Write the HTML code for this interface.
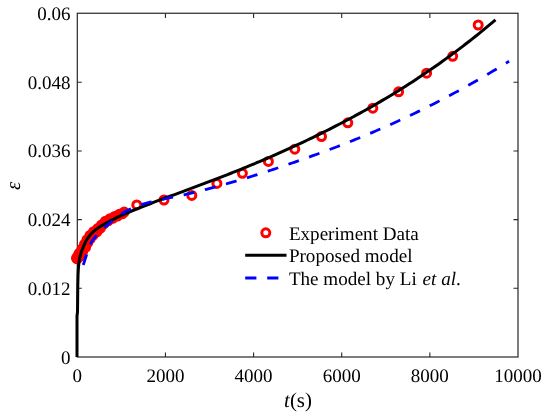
<!DOCTYPE html>
<html><head><meta charset="utf-8"><style>html,body{margin:0;padding:0;background:#fff;}svg{display:block;}text{text-rendering:geometricPrecision;}</style></head>
<body><svg width="550" height="418" viewBox="0 0 550 418" font-family='"Liberation Serif", "Times New Roman", serif' font-size="19"><rect width="550" height="418" fill="#fff"/><path d="M165.44,357.0V352.50M165.44,13.6V18.10M253.58,357.0V352.50M253.58,13.6V18.10M341.72,357.0V352.50M341.72,13.6V18.10M429.86,357.0V352.50M429.86,13.6V18.10M77.3,288.32H81.80M518.0,288.32H513.50M77.3,219.64H81.80M518.0,219.64H513.50M77.3,150.96H81.80M518.0,150.96H513.50M77.3,82.28H81.80M518.0,82.28H513.50" stroke="#262626" stroke-width="1.1" fill="none"/><rect x="77.3" y="13.25" width="440.70" height="343.75" stroke="#262626" stroke-width="1.2" fill="none"/><g fill="#000"><text x="70.5" y="363.50" text-anchor="end">0</text><text x="70.5" y="294.82" text-anchor="end">0.012</text><text x="70.5" y="226.14" text-anchor="end">0.024</text><text x="70.5" y="157.46" text-anchor="end">0.036</text><text x="70.5" y="88.78" text-anchor="end">0.048</text><text x="70.5" y="20.10" text-anchor="end">0.06</text><text x="77.30" y="381.8" text-anchor="middle">0</text><text x="165.44" y="381.8" text-anchor="middle">2000</text><text x="253.58" y="381.8" text-anchor="middle">4000</text><text x="341.72" y="381.8" text-anchor="middle">6000</text><text x="429.86" y="381.8" text-anchor="middle">8000</text><text x="518.00" y="381.8" text-anchor="middle">10000</text></g><text x="298" y="407.3" text-anchor="middle" font-size="20.9"><tspan font-style="italic">t</tspan>(s)</text><text transform="translate(19.5,185.8) rotate(-90)" text-anchor="middle" font-size="20.9" font-style="italic">ε</text><g stroke="#ff0000" stroke-width="3" fill="none"><circle cx="77.20" cy="258.80" r="4"/><circle cx="78.00" cy="256.00" r="4"/><circle cx="76.48" cy="258.20" r="4"/><circle cx="79.84" cy="256.30" r="4"/><circle cx="79.10" cy="253.37" r="4"/><circle cx="82.63" cy="251.74" r="4"/><circle cx="82.10" cy="248.82" r="4"/><circle cx="85.52" cy="247.42" r="4"/><circle cx="84.54" cy="244.21" r="4"/><circle cx="87.64" cy="242.93" r="4"/><circle cx="86.97" cy="239.64" r="4"/><circle cx="90.19" cy="238.74" r="4"/><circle cx="89.95" cy="235.42" r="4"/><circle cx="93.26" cy="235.02" r="4"/><circle cx="93.54" cy="231.70" r="4"/><circle cx="96.88" cy="231.77" r="4"/><circle cx="97.63" cy="228.54" r="4"/><circle cx="100.47" cy="228.16" r="4"/><circle cx="101.49" cy="224.94" r="4"/><circle cx="103.91" cy="223.91" r="4"/><circle cx="105.39" cy="221.21" r="4"/><circle cx="108.14" cy="220.79" r="4"/><circle cx="110.01" cy="218.73" r="4"/><circle cx="112.76" cy="218.35" r="4"/><circle cx="114.70" cy="216.38" r="4"/><circle cx="117.43" cy="216.05" r="4"/><circle cx="119.43" cy="214.16" r="4"/><circle cx="122.15" cy="213.84" r="4"/><circle cx="124.20" cy="212.03" r="4"/><circle cx="136.80" cy="204.90" r="4"/><circle cx="164.00" cy="200.00" r="4"/><circle cx="191.80" cy="195.40" r="4"/><circle cx="216.90" cy="183.40" r="4"/><circle cx="242.40" cy="173.30" r="4"/><circle cx="268.40" cy="161.40" r="4"/><circle cx="294.80" cy="149.20" r="4"/><circle cx="321.50" cy="136.50" r="4"/><circle cx="347.80" cy="122.80" r="4"/><circle cx="372.80" cy="108.20" r="4"/><circle cx="398.60" cy="91.80" r="4"/><circle cx="426.60" cy="73.20" r="4"/><circle cx="452.70" cy="56.30" r="4"/><circle cx="478.20" cy="25.00" r="4"/></g><path d="M77.00,357.00 L77.00,316.00 L77.50,312.00 L77.65,300.00 L77.80,285.00 L78.05,275.00 L78.40,268.00 L78.90,263.00 L79.50,258.89 L80.35,255.48 L81.21,252.57 L82.06,250.00 L82.92,247.72 L83.77,245.66 L84.62,243.79 L85.48,242.08 L86.33,240.53 L87.19,239.10 L88.04,237.80 L88.90,236.60 L89.75,235.51 L90.60,234.51 L91.46,233.58 L92.31,232.71 L93.17,231.90 L94.02,231.15 L94.88,230.43 L95.73,229.75 L96.58,229.10 L97.44,228.48 L98.29,227.89 L99.15,227.31 L100.00,226.75 L101.00,226.11 L104.32,224.11 L107.63,222.24 L110.95,220.49 L114.26,218.82 L117.58,217.22 L120.89,215.69 L124.21,214.21 L127.52,212.77 L130.84,211.37 L134.15,210.00 L137.47,208.66 L140.78,207.34 L144.10,206.04 L147.41,204.75 L150.73,203.48 L154.04,202.22 L157.36,200.97 L160.67,199.72 L163.99,198.48 L167.30,197.25 L170.62,196.02 L173.93,194.79 L177.25,193.56 L180.56,192.33 L183.88,191.10 L187.19,189.87 L190.51,188.64 L193.82,187.41 L197.14,186.17 L200.45,184.93 L203.77,183.68 L207.08,182.43 L210.40,181.17 L213.71,179.91 L217.03,178.64 L220.34,177.37 L223.66,176.08 L226.97,174.79 L230.29,173.49 L233.61,172.18 L236.92,170.86 L240.24,169.53 L243.55,168.19 L246.87,166.84 L250.18,165.48 L253.50,164.10 L256.81,162.72 L260.13,161.33 L263.44,159.92 L266.76,158.50 L270.07,157.07 L273.39,155.63 L276.70,154.17 L280.02,152.70 L283.33,151.22 L286.65,149.73 L289.96,148.22 L293.28,146.70 L296.59,145.16 L299.91,143.62 L303.22,142.06 L306.54,140.48 L309.85,138.90 L313.17,137.29 L316.48,135.68 L319.80,134.05 L323.11,132.41 L326.43,130.75 L329.74,129.08 L333.06,127.39 L336.37,125.69 L339.69,123.98 L343.00,122.25 L346.32,120.51 L349.63,118.75 L352.95,116.97 L356.26,115.18 L359.58,113.37 L362.89,111.54 L366.21,109.69 L369.53,107.82 L372.84,105.94 L376.16,104.03 L379.47,102.11 L382.79,100.16 L386.10,98.20 L389.42,96.21 L392.73,94.20 L396.05,92.17 L399.36,90.12 L402.68,88.04 L405.99,85.94 L409.31,83.82 L412.62,81.68 L415.94,79.51 L419.25,77.32 L422.57,75.10 L425.88,72.86 L429.20,70.60 L432.51,68.31 L435.83,66.00 L439.14,63.66 L442.46,61.29 L445.77,58.90 L449.09,56.49 L452.40,54.05 L455.72,51.58 L459.03,49.09 L462.35,46.57 L465.66,44.03 L468.98,41.45 L472.29,38.86 L475.61,36.23 L478.92,33.58 L482.24,30.90 L485.55,28.19 L488.87,25.46 L492.18,22.70 L495.50,19.91" stroke="#000" stroke-width="3" fill="none" stroke-linejoin="round"/><path d="M83.25,264.95 L85.93,256.78 L88.61,248.54 L91.28,242.52 L93.96,238.48 L96.64,235.36 L99.32,232.59 L102.00,230.01 L104.68,227.57 L107.35,225.21 L110.03,222.91 L112.71,220.65 L115.39,218.44 L118.07,216.33 L120.75,214.39 L123.42,212.64 L126.10,211.08 L128.78,209.68 L131.46,208.42 L134.14,207.28 L136.82,206.24 L139.49,205.29 L142.17,204.42 L144.85,203.61 L147.53,202.85 L150.21,202.14 L152.89,201.48 L155.56,200.84 L158.24,200.23 L160.92,199.64 L163.60,199.06 L166.28,198.50 L168.96,197.94 L171.63,197.38 L174.31,196.82 L176.99,196.26 L179.67,195.69 L182.35,195.11 L185.03,194.51 L187.70,193.91 L190.38,193.29 L193.06,192.66 L195.74,192.01 L198.42,191.36 L201.10,190.69 L203.77,190.01 L206.45,189.32 L209.13,188.62 L211.81,187.92 L214.49,187.20 L217.17,186.47 L219.84,185.73 L222.52,184.99 L225.20,184.23 L227.88,183.47 L230.56,182.70 L233.23,181.92 L235.91,181.13 L238.59,180.33 L241.27,179.53 L243.95,178.72 L246.63,177.90 L249.30,177.08 L251.98,176.24 L254.66,175.40 L257.34,174.56 L260.02,173.71 L262.70,172.85 L265.37,171.98 L268.05,171.11 L270.73,170.23 L273.41,169.35 L276.09,168.46 L278.77,167.57 L281.44,166.67 L284.12,165.76 L286.80,164.85 L289.48,163.93 L292.16,163.01 L294.84,162.08 L297.51,161.15 L300.19,160.21 L302.87,159.27 L305.55,158.32 L308.23,157.37 L310.91,156.41 L313.58,155.44 L316.26,154.47 L318.94,153.49 L321.62,152.51 L324.30,151.52 L326.98,150.52 L329.65,149.52 L332.33,148.50 L335.01,147.48 L337.69,146.46 L340.37,145.42 L343.05,144.38 L345.72,143.33 L348.40,142.27 L351.08,141.20 L353.76,140.13 L356.44,139.05 L359.12,137.95 L361.79,136.85 L364.47,135.75 L367.15,134.63 L369.83,133.50 L372.51,132.37 L375.18,131.22 L377.86,130.07 L380.54,128.91 L383.22,127.74 L385.90,126.56 L388.58,125.37 L391.25,124.17 L393.93,122.96 L396.61,121.74 L399.29,120.51 L401.97,119.27 L404.65,118.02 L407.32,116.76 L410.00,115.50 L412.68,114.22 L415.36,112.93 L418.04,111.63 L420.72,110.33 L423.39,109.01 L426.07,107.68 L428.75,106.34 L431.43,104.99 L434.11,103.63 L436.79,102.26 L439.46,100.88 L442.14,99.49 L444.82,98.09 L447.50,96.68 L450.18,95.26 L452.86,93.83 L455.53,92.38 L458.21,90.93 L460.89,89.47 L463.57,87.99 L466.25,86.51 L468.93,85.01 L471.60,83.50 L474.28,81.99 L476.96,80.46 L479.64,78.92 L482.32,77.37 L485.00,75.80 L487.67,74.23 L490.35,72.65 L493.03,71.06 L495.71,69.45 L498.39,67.83 L501.07,66.21 L503.74,64.57 L506.42,62.92 L509.10,61.26" stroke="#0000ff" stroke-width="2.8" fill="none" stroke-dasharray="11 10.85"/><circle cx="265.8" cy="232.8" r="4" stroke="#ff0000" stroke-width="3" fill="none"/><path d="M245.2,255.3H286.5" stroke="#000" stroke-width="3"/><path d="M245.2,277.9H256.4M267.2,277.9H278.4" stroke="#0000ff" stroke-width="3"/><text x="288.9" y="239.8" font-size="19.1">Experiment Data</text><text x="288.9" y="262.1" font-size="19.1">Proposed model</text><text x="288.9" y="284.6" font-size="19.1">The model by Li <tspan font-style="italic" dx="1.1">et al</tspan>.</text></svg></body></html>
